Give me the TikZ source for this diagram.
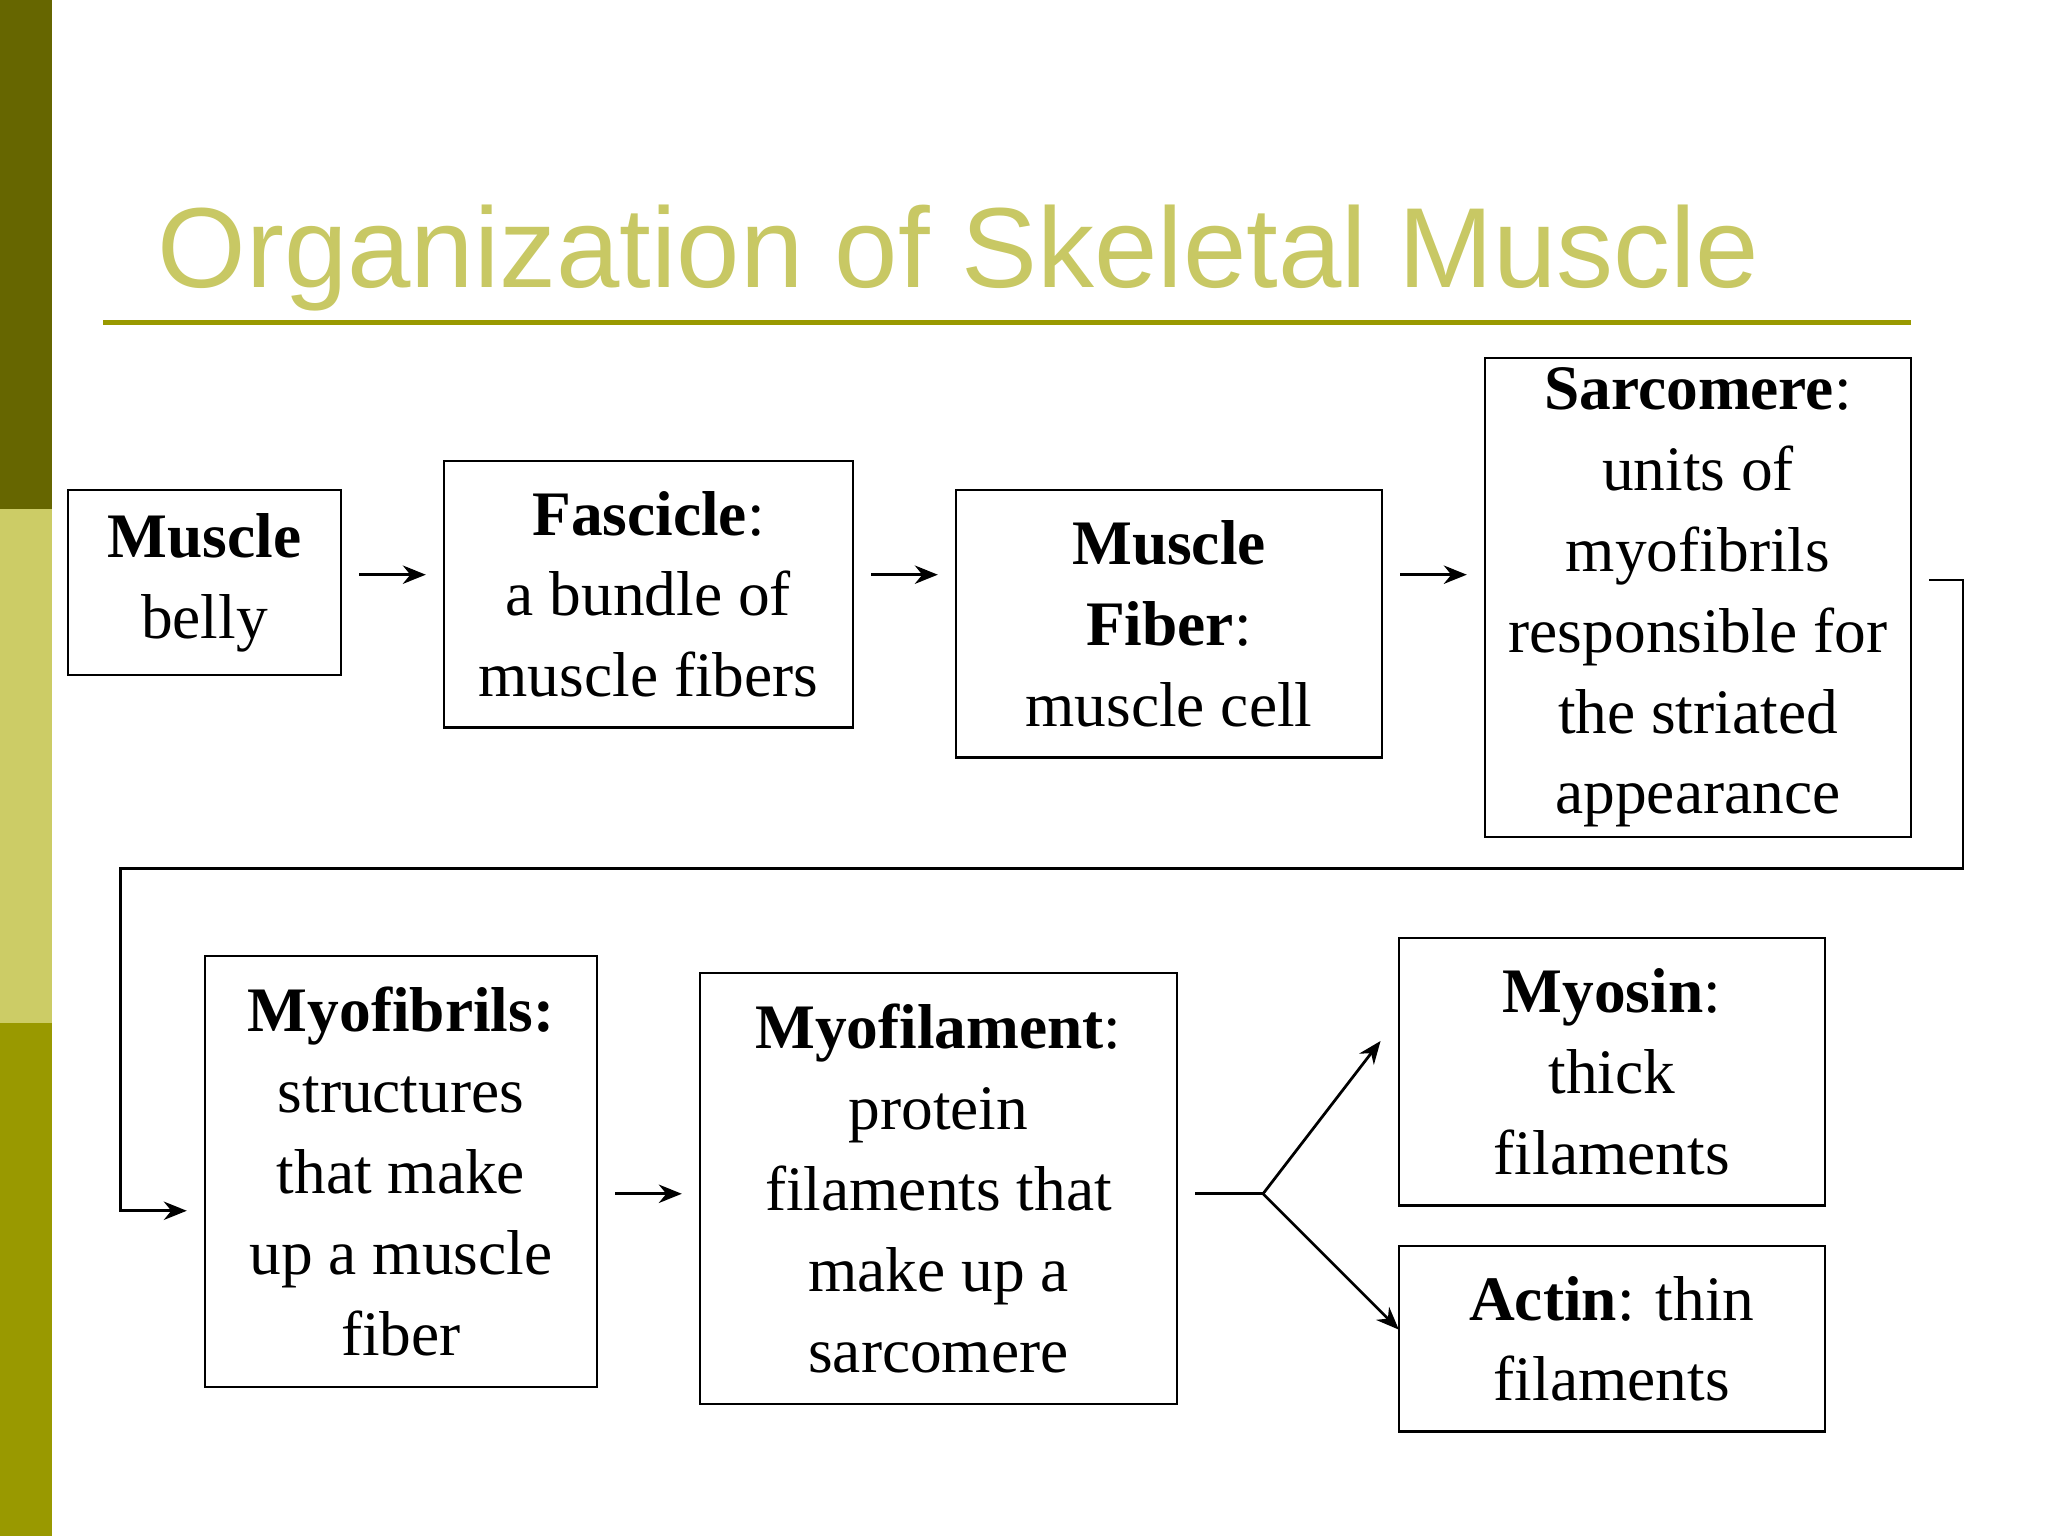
\documentclass[tikz,border=0pt]{standalone}
\usepackage{fontspec}
\setmainfont{Liberation Serif}
\newfontfamily\titlefont{Liberation Sans}
\usetikzlibrary{arrows.meta}
\definecolor{olivedark}{HTML}{666600}
\definecolor{olivelight}{HTML}{CCCC66}
\definecolor{olivemid}{HTML}{999900}
\definecolor{titlecol}{HTML}{C8C864}
\begin{document}
\begin{tikzpicture}[x=0.01cm,y=-0.01cm,
  box/.style={draw,line width=0.5pt,inner sep=0pt,align=center,font=\fontsize{13.8}{17.6}\selectfont},
  arr/.style={-{Stealth[length=5pt,width=4pt]},line width=0.6pt},
  ln/.style={line width=0.6pt}]
\useasboundingbox (0,0) rectangle (1568,1176);
\fill[olivedark] (0,0) rectangle (40,390);
\fill[olivelight] (0,390) rectangle (40,783);
\fill[olivemid] (0,783) rectangle (40,1176);
\node[anchor=base west,inner sep=0pt,text=titlecol,font=\titlefont\fontsize{24.8}{30}\selectfont] (title) at (120,220) {Organization of Skeletal Muscle};
\draw[olivemid,line width=1pt] (79,247) -- (1463,247);
\newcommand{\bx}[6]{\node[box,minimum width={(#4-#2)*0.01cm},minimum height={(#5-#3)*0.01cm}] (#1) at ({(#2+#4)/2},{(#3+#5)/2}) {#6};}
\bx{mb}{52}{375}{261}{517}{\textbf{Muscle}\\belly}
\bx{fa}{340}{353}{653}{557}{\textbf{Fascicle}:\\a bundle of\\muscle fibers}
\bx{fi}{732}{375}{1058}{580}{\textbf{Muscle}\\\textbf{Fiber}:\\muscle cell}
\bx{sa}{1137}{274}{1463}{641}{\textbf{Sarcomere}:\\units of\\myofibrils\\responsible for\\the striated\\appearance}
\bx{mf}{157}{732}{457}{1062}{\textbf{Myofibrils:}\\structures\\that make\\up a muscle\\fiber}
\bx{my}{536}{745}{901}{1075}{\textbf{Myofilament}:\\protein\\filaments that\\make up a\\sarcomere}
\bx{mo}{1071}{718}{1397}{923}{\textbf{Myosin}:\\thick\\filaments}
\bx{ac}{1071}{954}{1397}{1096}{\textbf{Actin}: thin\\filaments}
\coordinate (a1) at (275,440); \coordinate (a2) at (326,440);
\coordinate (b1) at (667,440); \coordinate (b2) at (718,440);
\coordinate (c1) at (1072,440); \coordinate (c2) at (1123,440);
\draw[arr] (a1) -- (a2); \draw[arr] (b1) -- (b2); \draw[arr] (c1) -- (c2);
\coordinate (s1) at (1477,444); \coordinate (s2) at (143,927);
\draw[arr] (s1) -- (1503,444) -- (1503,665) -- (92,665) -- (92,927) -- (s2);
\coordinate (d1) at (471,914); \coordinate (d2) at (522,914);
\draw[arr] (d1) -- (d2);
\coordinate (e0) at (915,914); \coordinate (e1) at (967,914);
\coordinate (e2) at (1057,797); \coordinate (e3) at (1071,1018);
\draw[ln] (e0) -- (e1);
\draw[arr] (e1) -- (e2);
\draw[arr] (e1) -- (e3);
\end{tikzpicture}
\end{document}
